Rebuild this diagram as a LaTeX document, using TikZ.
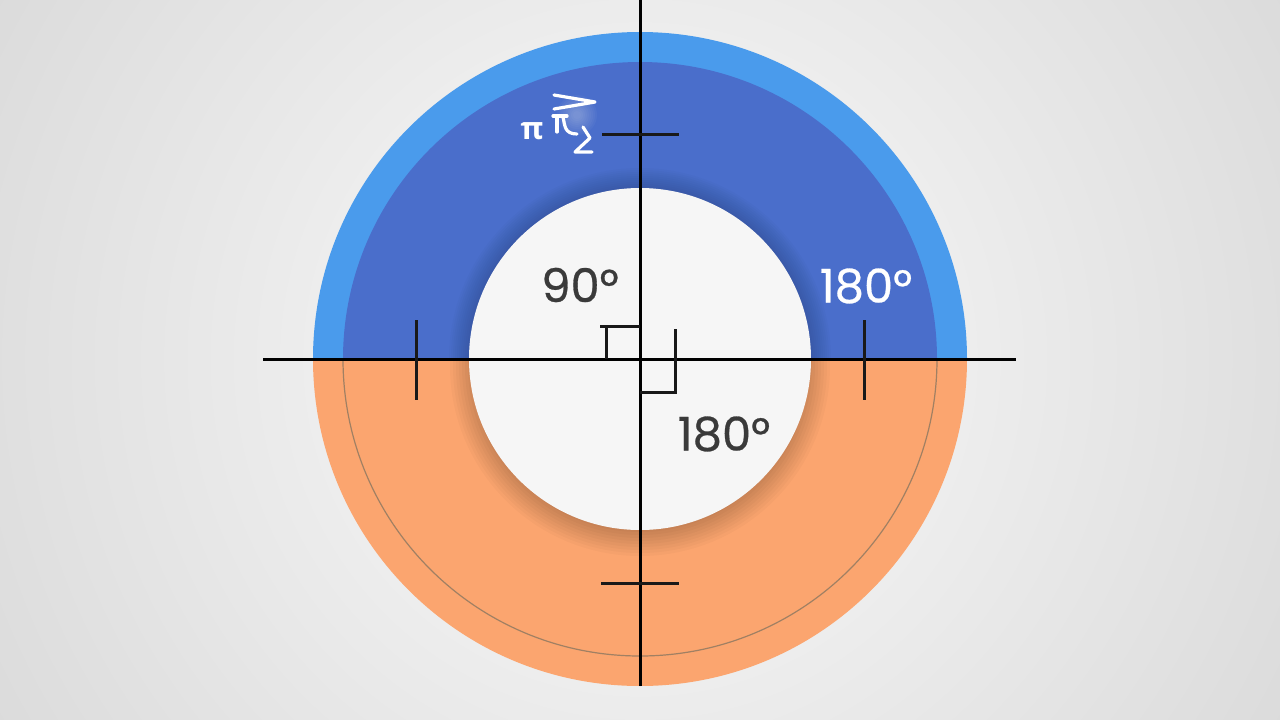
\documentclass[tikz,border=0pt]{standalone}
\usepackage{fontspec}
\setmainfont{Poppins}[FakeBold=0.6]
\newfontfamily\pifont{Open Sans}
\usetikzlibrary{calc}
\definecolor{bgin}{HTML}{EDEDED}
\definecolor{bgout}{HTML}{D6D6D6}
\definecolor{lblue}{HTML}{4A9BEC}
\definecolor{dblue}{HTML}{4A6ECB}
\definecolor{ring}{HTML}{FBA56F}
\definecolor{ringline}{HTML}{A08063}
\definecolor{ink}{HTML}{3A3A3A}
\definecolor{hole}{HTML}{F6F6F6}
\tikzset{
  axis/.style={draw=black,line width=3pt},
  mark line/.style={draw=black!90,line width=3pt},
  degree/.style={font=\fontsize{46.5}{46.5}\selectfont,text=ink,inner sep=0pt,anchor=center},
  scrib/.style={draw=white,line width=3.2pt,line cap=round,line join=round}
}
\pgfdeclareradialshading{bgshade}{\pgfpoint{0pt}{0pt}}{color(0pt)=(bgin); color(11bp)=(bgin); color(29bp)=(bgout); color(50bp)=(bgout)}
\begin{document}
\begin{tikzpicture}[x=1pt,y=-1pt]
\useasboundingbox (0,0) rectangle (1280,720);
\begin{scope}
\clip (0,0) rectangle (1280,720);
\shade[shading=bgshade] (-100,-381) rectangle (1380,1099);
\end{scope}
\coordinate (c) at (640,359);
% rings
\fill[ring] (313,359) arc[start angle=180,end angle=360,x radius=327,y radius=-327] -- cycle;
\fill[lblue] (313,359) arc[start angle=180,end angle=0,x radius=327,y radius=-327] -- cycle;
\fill[dblue] (343,359) arc[start angle=180,end angle=0,x radius=297,y radius=-297] -- cycle;
\draw[ringline,line width=1.2pt] (343,359) arc[start angle=180,end angle=360,x radius=297,y radius=-297];
% soft shadow of the hole
\begin{scope}
\clip (0,0) rectangle (1280,359);
\foreach \r in {171,173,...,191}{\fill[black,opacity=0.016] (c) circle[radius=\r];}
\end{scope}
\begin{scope}
\clip (0,359) rectangle (1280,720);
\foreach \r in {166,169,...,190}{\fill[black,opacity=0.025] ($(c)+(0,7)$) circle[radius=\r];}
\end{scope}
\fill[hole] (c) circle[radius=171];
% axes
\draw[axis] (263,359) -- (1016,359);
\draw[axis] (640,0) -- (640,686);
% ticks
\draw[mark line] (602,134) -- (679,134);
\draw[mark line] (601,583) -- (679,583);
\draw[mark line] (416,320) -- (416,400);
\draw[mark line] (864,320) -- (864,400);
% right-angle marks
\draw[mark line] (606,359) -- (606,326);
\draw[mark line] (600,326) -- (640,326);
\draw[mark line] (675,329) -- (675,392) -- (640,392);
% labels
\node[degree] (a) at (580,285) {90°};
\node[degree,text=white] (b) at (866,286) {180°};
\node[degree] (d) at (724,434) {180°};
\node[text=white,inner sep=0pt,font=\fontsize{31}{31}\selectfont\pifont\bfseries] (p) at (532,131) {π};
% soft glow behind the scribbled glyphs
\foreach \r in {4,6,...,20}{\fill[white,opacity=0.035] (577,115) circle[radius=\r];}
% scribbled glyphs
\draw[scrib] (554,95) -- (595,102) -- (554,109);
\draw[scrib] (553,116) -- (567,116);
\draw[scrib] (557,117) -- (557,132);
\draw[scrib] (563,117) .. controls (565,125) and (564,134) .. (577,134);
\draw[scrib] (583,127) -- (590,138) -- (575,152) -- (592,152);
\end{tikzpicture}
\end{document}
